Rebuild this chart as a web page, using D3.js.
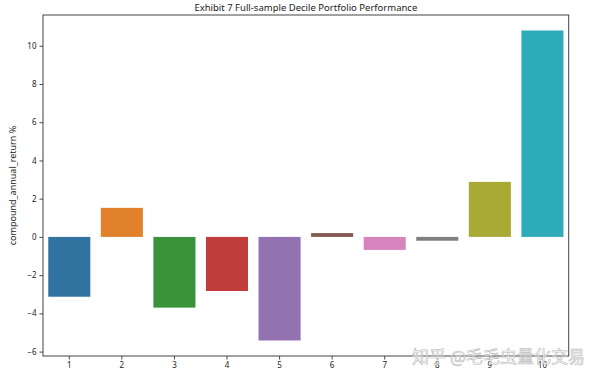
<!DOCTYPE html>
<html><head><meta charset="utf-8">
<script src="https://d3js.org/d3.v7.min.js"></script>
<style>body{margin:0;background:#fff}svg{display:block}</style>
</head><body>
<script>
const categories = ["1","2","3","4","5","6","7","8","9","10"];
const values = [-3.13, 1.52, -3.7, -2.83, -5.42, 0.2, -0.68, -0.2, 2.88, 10.8];
const colors = ["#3274a1","#e1812c","#3a923a","#c03d3e","#9372b2","#845b53","#d684bd","#7f7f7f","#a9aa35","#2eabb8"];
const yTicks = [-6,-4,-2,0,2,4,6,8,10];
const title = "Exhibit 7 Full-sample Decile Portfolio Performance";
const yLabel = "compound_annual_return %";
const watermark = "知乎 @毛毛虫量化交易";

const W = 600, H = 383;
const m = {l:43, r:31.3, t:15, b:27};
const svg = d3.select("body").append("svg").attr("width",W).attr("height",H);
const font = "'Noto Sans', 'Open Sans', sans-serif";

const x = d3.scaleBand().domain(categories).range([m.l, W-m.r]).paddingInner(0.2).paddingOuter(0.1);
const vmin = d3.min(values), vmax = d3.max(values), pad = (vmax - vmin)*0.05;
const y = d3.scaleLinear().domain([vmin - pad, vmax + pad]).range([H-m.b, m.t]);

svg.append("g").selectAll("rect").data(values).join("rect")
  .attr("x",(d,i)=>x(categories[i]))
  .attr("width",x.bandwidth())
  .attr("y",d=>y(Math.max(0,d)))
  .attr("height",d=>Math.abs(y(d)-y(0)))
  .attr("fill",(d,i)=>colors[i]);

const fmt = d => d < 0 ? "\u2212" + Math.abs(d) : String(d);
const gy = svg.append("g").attr("transform",`translate(${m.l},0)`)
  .call(d3.axisLeft(y).tickValues(yTicks).tickFormat(fmt).tickSize(3.5).tickPadding(3));
const gx = svg.append("g").attr("transform",`translate(0,${H-m.b})`)
  .call(d3.axisBottom(x).tickSize(3.5).tickPadding(3));
[gy,gx].forEach(g=>{
  g.select(".domain").remove();
  g.selectAll("line").attr("stroke","#333").attr("stroke-width",0.9);
  g.selectAll("text").attr("font-family",font).attr("font-size",8).attr("fill","#222");
});

svg.append("rect").attr("x",m.l).attr("y",m.t).attr("width",W-m.r-m.l).attr("height",H-m.b-m.t)
  .attr("fill","none").attr("stroke","#444").attr("stroke-width",1);

svg.append("text").attr("x",(m.l+W-m.r)/2).attr("y",11).attr("text-anchor","middle")
  .attr("font-family",font).attr("font-size",9.5).attr("fill","#222").text(title);

svg.append("text").attr("transform",`translate(16,${(m.t+H-m.b)/2}) rotate(-90)`)
  .attr("text-anchor","middle").attr("font-family",font).attr("font-size",9).attr("fill","#222").text(yLabel);

svg.append("text").attr("x",585).attr("y",363).attr("text-anchor","end")
  .attr("font-family","'Noto Sans CJK SC', sans-serif").attr("font-size",17)
  .attr("fill","#fff").attr("fill-opacity",0.75).attr("stroke","#bbb").attr("stroke-width",0.6).text(watermark);
</script>
</body></html>
